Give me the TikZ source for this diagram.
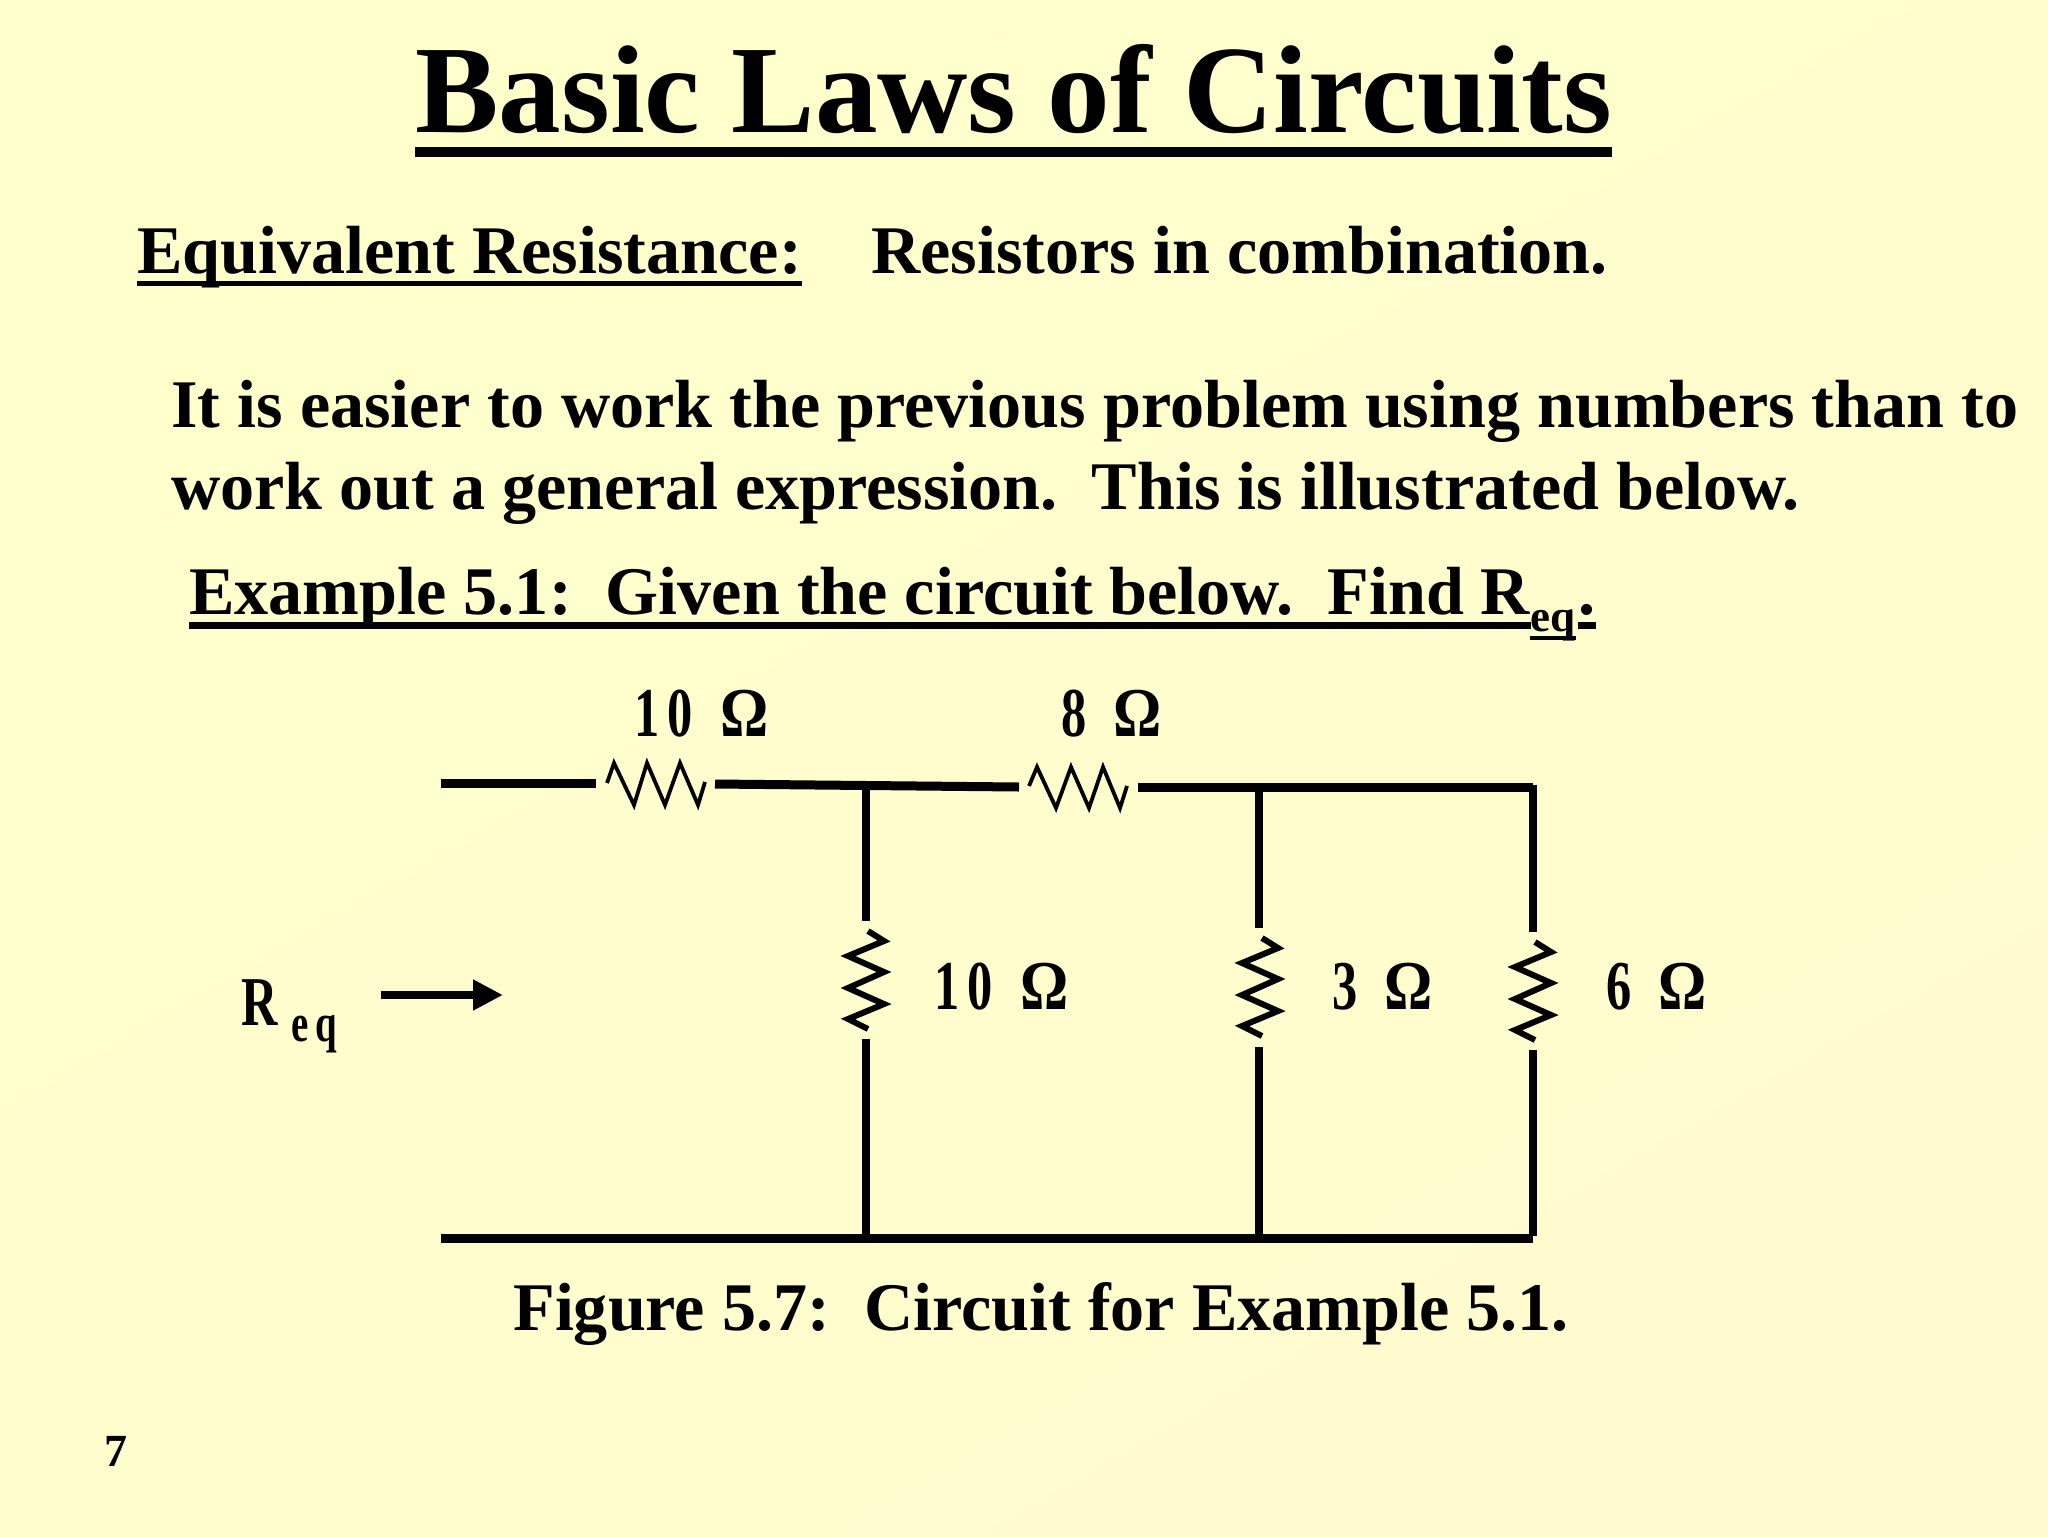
\documentclass[tikz,border=0pt]{standalone}
\usepackage{fontspec}
\setmainfont{Liberation Serif}
\newfontfamily\cirfont[FakeStretch=0.72,LetterSpace=12]{Liberation Serif}
\newfontfamily\omfont[FakeStretch=0.86]{Liberation Serif}
\usepackage{tikz}
\usetikzlibrary{arrows.meta}
\usetikzlibrary{positioning}
\definecolor{slide}{HTML}{FFFFCC}
\definecolor{slideb}{HTML}{FFFBCF}
\tikzstyle{txt}=[anchor=base west,inner sep=0pt,font=\bfseries\fontsize{34.07}{34}\selectfont]
\tikzstyle{titre}=[txt,font=\bfseries\fontsize{62.55}{62}\selectfont]
\tikzstyle{ohm}=[anchor=base west,inner sep=0pt,font=\cirfont\bfseries\fontsize{35}{35}\selectfont]
\tikzstyle{wire}=[line width=4.5pt]
\tikzstyle{branch}=[line width=3.7pt]
\tikzstyle{zig}=[line width=1.9pt,line join=miter,miter limit=3]
\tikzstyle{vzig}=[line width=3pt,line join=miter,miter limit=3]
\tikzstyle{rule}=[line width=2.5pt]
\newcommand{\om}{{\omfont\hspace{3pt}Ω}}
\newcommand{\vres}[2]{%
  \draw[vzig] (#1+2,#2) -- (#1+18,#2+10) -- (#1-18,#2+25) -- (#1+18,#2+41)
    -- (#1-18,#2+57) -- (#1+18,#2+73) -- (#1-18,#2+88) -- (#1+2,#2+98);}
\begin{document}
\begin{tikzpicture}[x=.5pt,y=-.5pt]
\useasboundingbox (0,0) rectangle (2048,1536);
\shade[top color=slide,bottom color=slideb,shading angle=30] (0,0) rectangle (2048,1536);
% textes
\node[titre] (title) at (415,133) {Basic Laws of Circuits};
\node[txt] (eqres) at (137,273) {Equivalent Resistance:};
\node[txt] (comb) at (871,273) {Resistors in combination.};
\node[txt] (l1) at (171,427) {It is easier to work the previous problem using numbers than to};
\node[txt] (l2) at (171,509) {work out a general expression.\ \ This is illustrated below.};
\node[txt] (ex) at (189,614) {Example 5.1:\ \ Given the circuit below.\ \ Find R};
\node[txt,font=\bfseries\fontsize{22.5}{22.5}\selectfont] (exsub) at (1530,631) {eq};
\node[txt] (exdot) at (1578,614) {.};
\node[txt] (fig) at (513,1330) {Figure 5.7:\ \ Circuit for Example 5.1.};
\node[txt,font=\bfseries\fontsize{23}{23}\selectfont] (page) at (104,1466) {7};
\draw[line width=5pt] ([yshift=-9.5pt]title.base west) -- ([yshift=-9.5pt]title.base east);
\draw[rule] ([yshift=-5pt]eqres.base west) -- ([yshift=-5pt]eqres.base east);
\draw[line width=3.5pt] ([yshift=-5.5pt]ex.base west) -- ([yshift=-5.5pt]ex.base east);
\draw[line width=2pt] ([yshift=-3.5pt]exsub.base west) -- ([yshift=-3.5pt]exsub.base east);
\draw[line width=3.5pt] ([yshift=-5.5pt]exdot.base west) -- ([yshift=-5.5pt]exdot.base east);
% valeurs
\node[ohm] (r1) at (634,736) {10\ \om};
\node[ohm] (r2) at (1061,736) {8\ \om};
\node[ohm] (r3) at (934,1009) {10\ \om};
\node[ohm] (r4) at (1332,1009) {3\ \om};
\node[ohm] (r5) at (1606,1009) {6\ \om};
\node[ohm] (req) at (241,1025) {R};
\node[ohm,font=\cirfont\bfseries\fontsize{27}{27}\selectfont] (reqsub) at (291,1041) {eq};
% points du circuit
\coordinate (a) at (441,783);
\coordinate (b) at (596,783);
\coordinate (c) at (715,784);
\coordinate (d) at (1019,787);
\coordinate (e) at (1138,787);
\coordinate (f) at (1533,787);
\coordinate (g) at (441,1238);
\coordinate (h) at (1533,1238);
\coordinate (n1) at (866,786);
\coordinate (n2) at (1259,787);
\coordinate (m1) at (866,1238);
\coordinate (m2) at (1259,1238);
\coordinate (p) at (381,995);
\coordinate (q) at (503,995);
\draw[wire] (a) -- (b);
\draw[wire] (c) -- (d);
\draw[wire] (e) -- (f);
\draw[wire] (g) -- (h);
\draw[branch] (n1) -- (866,921);
\draw[branch] (866,1039) -- (m1);
\draw[branch] (n2) -- (1259,928);
\draw[branch] (1259,1047) -- (m2);
\draw[branch] ([yshift=1.1pt]f) -- (1533,932);
\draw[branch] (1533,1050) -- ([yshift=1.1pt]h);
\draw[zig] (607,783) -- (614,763) -- (634,805) -- (647,763) -- (665,805) -- (680,763) -- (698,805) -- (705,782);
\draw[zig] (1029,786) -- (1037,767) -- (1056,808) -- (1071,767) -- (1089,808) -- (1103,767) -- (1120,808) -- (1127,786);
\vres{866}{931}
\vres{1260}{938}
\vres{1533}{942}
\draw[line width=4pt,-{Triangle[length=15pt,width=14.5pt]}] (p) -- (q);
\end{tikzpicture}
\end{document}
